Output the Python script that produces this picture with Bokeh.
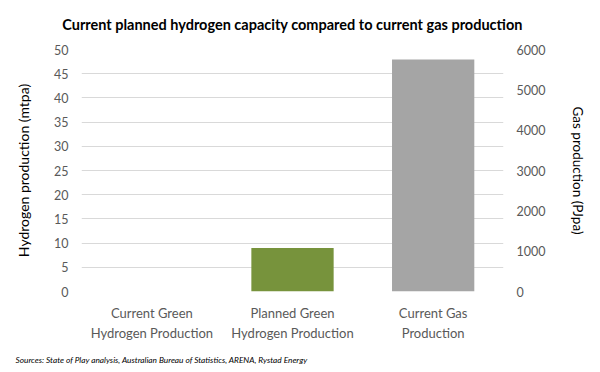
from bokeh.plotting import figure
from bokeh.models import (FactorRange, Range1d, LinearAxis, FixedTicker, Title)
from bokeh.embed import file_html
from bokeh.resources import INLINE

# ---- data ----
categories = ["Current Green\nHydrogen Production",
              "Planned Green\nHydrogen Production",
              "Current Gas\nProduction"]
hydrogen_cats = categories[:2]
hydrogen_values = [0, 9]          # mtpa
gas_cats = categories[2:]
gas_values = [5750]               # PJpa
left_ticks = [0, 5, 10, 15, 20, 25, 30, 35, 40, 45, 50]
right_ticks = [0, 1000, 2000, 3000, 4000, 5000, 6000]

title_text = "Current planned hydrogen capacity compared to current gas production"
source_text = "Sources: State of Play analysis, Australian Bureau of Statistics, ARENA, Rystad Energy"

FONT = "Lato"
GREY = "#595959"

p = figure(width=600, height=372, x_range=FactorRange(*categories, range_padding=0),
           y_range=Range1d(0, 50), output_backend="svg", toolbar_location=None,
           min_border_left=81, min_border_right=97, min_border_top=49, min_border_bottom=80)
p.extra_y_ranges = {"gas": Range1d(0, 6000)}

p.title.text = title_text
p.title.text_font = FONT
p.title.text_font_size = "14.5px"
p.title.text_font_style = "bold"
p.title.text_color = "#000000"
p.title.align = "center"
p.title.vertical_align = "top"
p.title.offset = 11
p.title.standoff = 29

p.vbar(x=hydrogen_cats, top=hydrogen_values, width=0.585, fill_color="#77933C", line_color=None)
p.vbar(x=gas_cats, top=gas_values, width=0.585, fill_color="#A5A5A5", line_color=None,
       y_range_name="gas")

p.outline_line_color = None
p.xgrid.grid_line_color = None
p.ygrid.grid_line_color = "#D9D9D9"
p.ygrid.ticker = FixedTicker(ticks=left_ticks)

# left axis
ya = p.yaxis[0]
ya.ticker = FixedTicker(ticks=left_ticks)
ya.axis_label = "Hydrogen production (mtpa)"

# right axis
ra = LinearAxis(y_range_name="gas", ticker=FixedTicker(ticks=right_ticks),
                axis_label="Gas production (PJpa)")
p.add_layout(ra, "right")

for ax in [ya, ra]:
    ax.axis_line_color = None
    ax.major_tick_line_color = None
    ax.minor_tick_line_color = None
    ax.major_tick_out = 0
    ax.major_tick_in = 0
    ax.minor_tick_out = 0
    ax.major_label_text_font = FONT
    ax.major_label_text_font_size = "12.5px"
    ax.major_label_text_color = GREY
    ax.major_label_standoff = 13
    ax.axis_label_text_font = FONT
    ax.axis_label_text_font_size = "13.5px"
    ax.axis_label_text_font_style = "normal"
    ax.axis_label_text_color = "#000000"

ya.axis_label_standoff = 19
ya.axis_label_text_font_size = "14px"
ra.axis_label_standoff = 22

xa = p.xaxis[0]
xa.axis_line_color = None
xa.major_tick_line_color = None
xa.minor_tick_line_color = None
xa.major_tick_out = 0
xa.major_tick_in = 0
xa.major_label_text_font = FONT
xa.major_label_text_font_size = "13px"
xa.major_label_text_color = GREY
xa.major_label_text_line_height = 1.3
xa.major_label_standoff = 13
xa.axis_label_standoff = 0

src = Title(text=source_text, align="left", offset=-66, standoff=16,
            text_font=FONT, text_font_size="8.3px", text_font_style="italic",
            text_color="#000000")
p.add_layout(src, "below")

open("out.html", "w").write(file_html(p, INLINE))
